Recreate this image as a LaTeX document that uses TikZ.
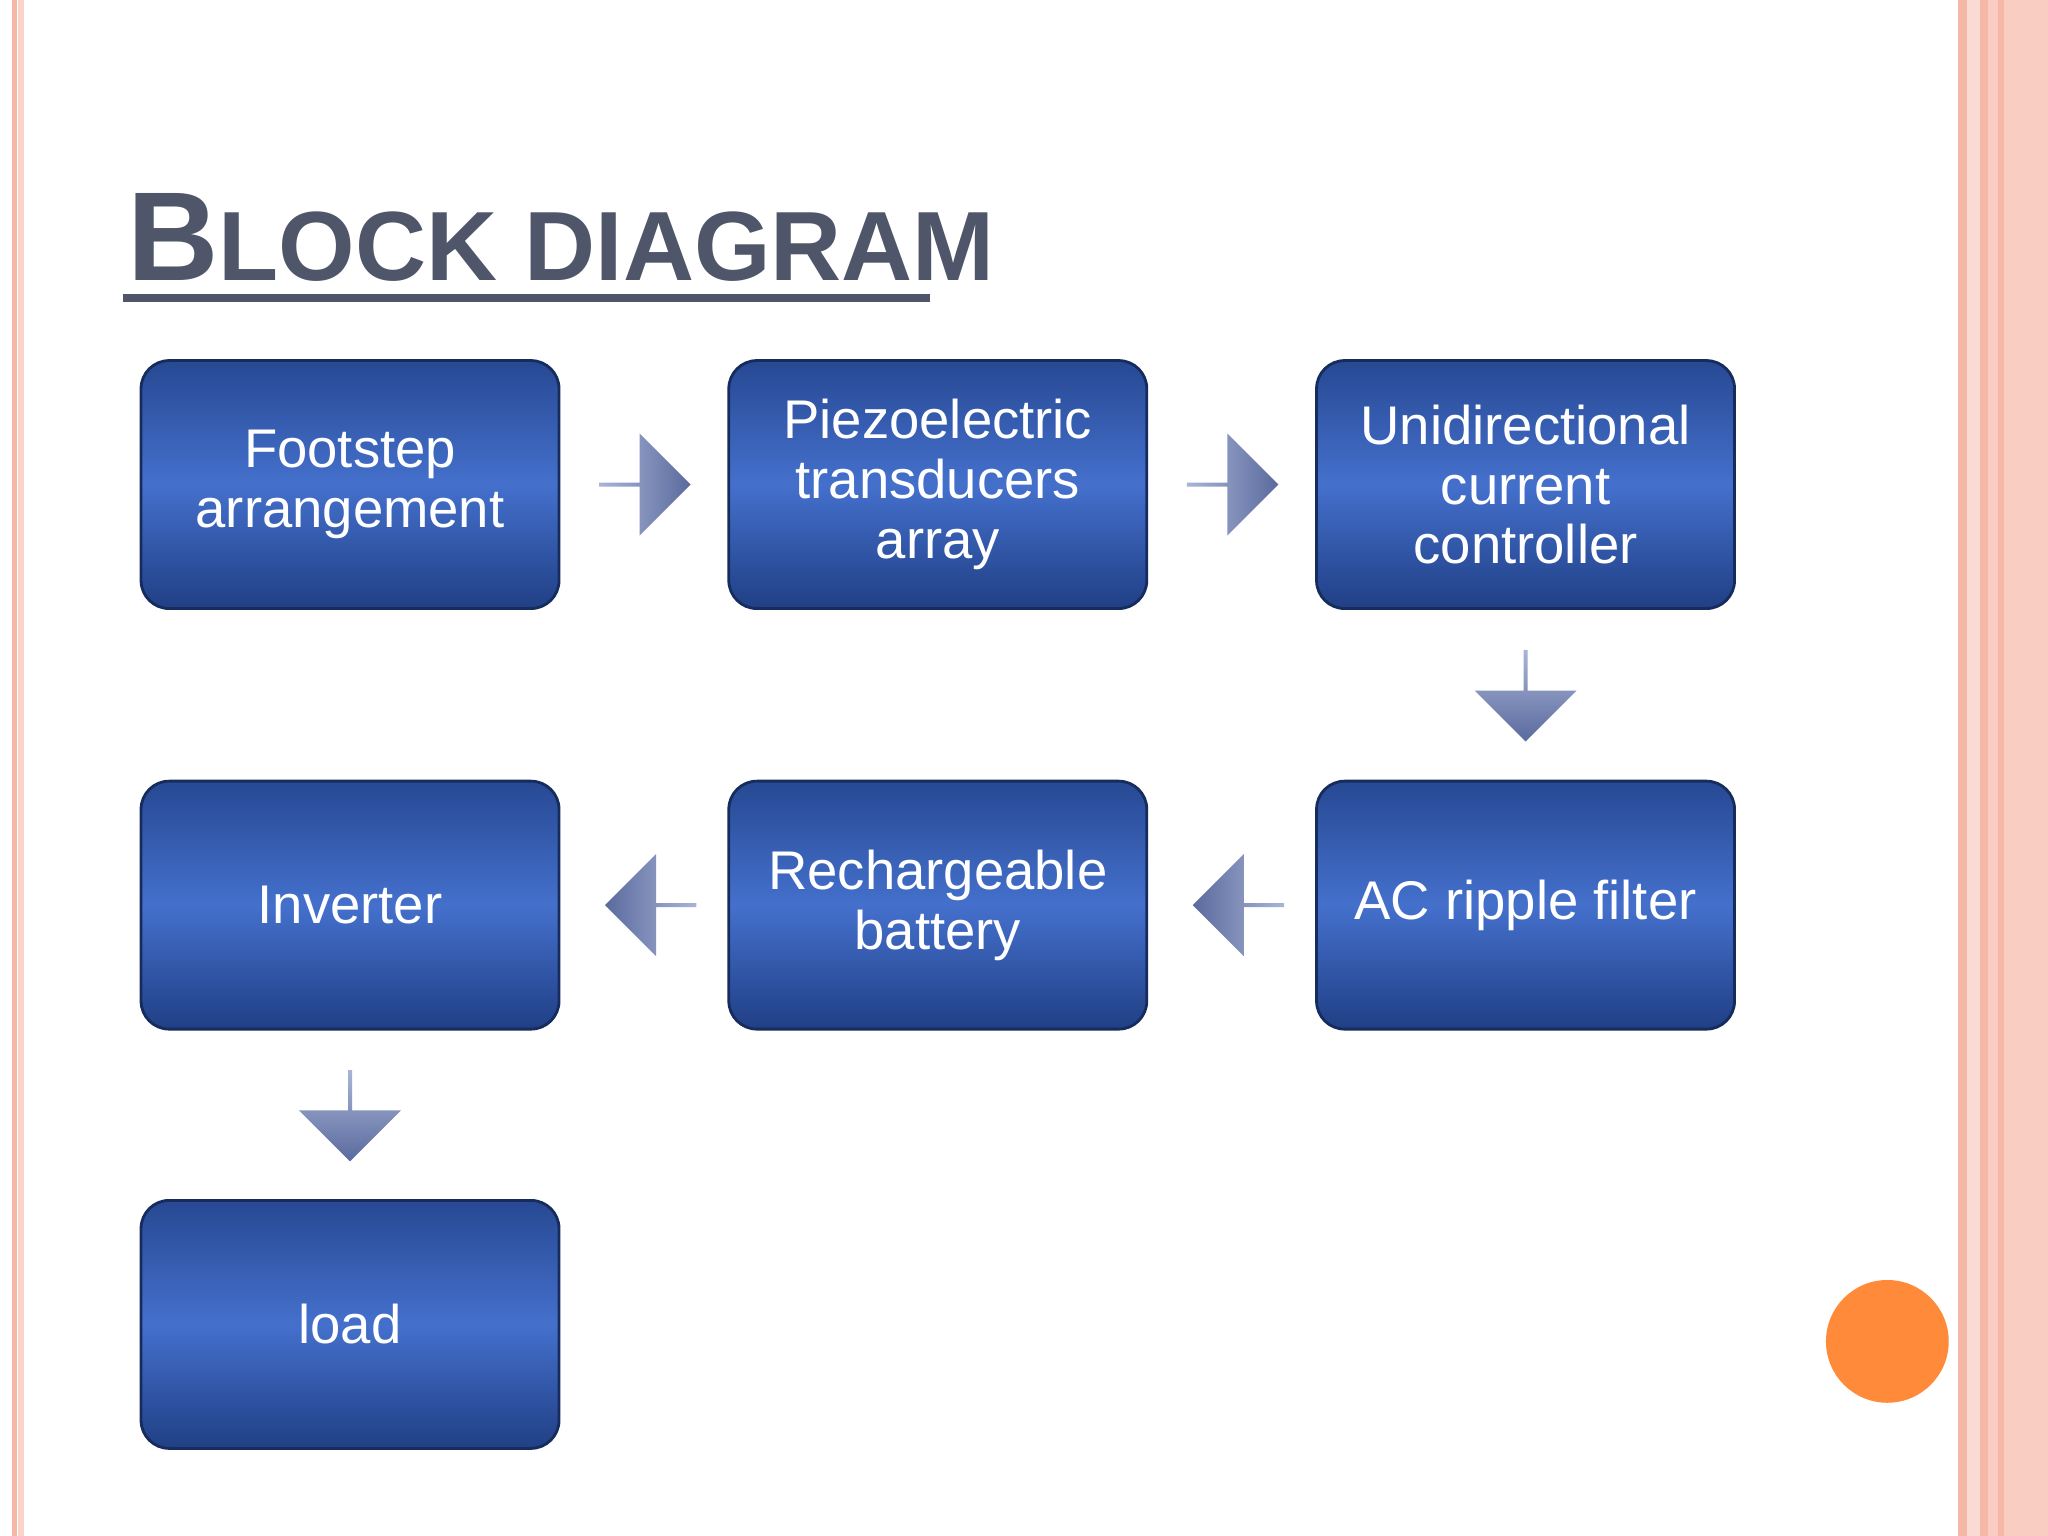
\documentclass[tikz,border=0pt]{standalone}
\usepackage{fontspec}
\setmainfont{Liberation Sans}
\usetikzlibrary{shapes.arrows,calc}
\definecolor{boxL}{HTML}{4470CC}
\definecolor{boxD}{HTML}{203F85}
\definecolor{arrL}{HTML}{A9B5D6}
\definecolor{arrD}{HTML}{5A6A9E}
\definecolor{titlec}{HTML}{4F5669}
\definecolor{pinkline}{HTML}{F6B7A6}
\definecolor{orangec}{HTML}{FF8A3A}
\begin{document}
\begin{tikzpicture}[x=0.013061cm,y=-0.013061cm,
  blk/.style={rounded corners=8pt,minimum width=320\pgflinewidth,inner sep=0pt,
     text=white,font=\fontsize{15.5}{17}\selectfont,align=center,
     top color=boxD!80!boxL,bottom color=boxD,middle color=boxL,
     draw=boxD!70!black,line width=0.8pt},
  arr/.style={single arrow,single arrow head extend=5pt,minimum width=29pt,minimum height=26pt,
     inner sep=0pt,left color=arrL,right color=arrD,draw=none}]
\useasboundingbox (0,0) rectangle (1568,1176);
\fill[white] (0,0) rectangle (1568,1176);
% borders
\fill[pinkline] (9,0) rectangle (13,1176);
\fill[pinkline!60] (14,0) rectangle (18,1176);
\fill[pinkline] (1499,0) rectangle (1506,1176);
\fill[pinkline!50] (1506,0) rectangle (1516,1176);
\fill[pinkline] (1516,0) rectangle (1522,1176);
\fill[pinkline!70] (1522,0) rectangle (1568,1176);
\fill[pinkline] (1530,0) rectangle (1534,1176);
% title
\node[anchor=base west,inner sep=0pt,text=titlec,font=\bfseries] (title) at (97,215)
  {\fontsize{36}{40}\selectfont B\fontsize{28}{32}\selectfont LOCK DIAGRAM};
\fill[titlec] (94,225) rectangle (712,231);
% boxes
\tikzset{bx/.style={blk,minimum width=4.18cm,minimum height=2.48cm}}
\node[bx] (a) at (268,371) {Footstep\\arrangement};
\node[bx] (b) at (718,371) {Piezoelectric\\transducers\\array};
\node[bx] (c) at (1168,371) {Unidirectional\\current\\controller};
\node[bx] (d) at (1168,693) {AC ripple filter};
\node[bx] (e) at (718,693) {Rechargeable\\battery};
\node[bx] (f) at (268,693) {Inverter};
\node[bx] (g) at (268,1014) {load};
% arrows
\node[arr] (ab) at ($(a)!0.5!(b)$) {};
\node[arr] (bc) at ($(b)!0.5!(c)$) {};
\node[arr,shape border rotate=270,top color=arrL,bottom color=arrD] (cd) at ($(c)!0.5!(d)$) {};
\node[arr,shape border rotate=180,left color=arrD,right color=arrL] (de) at ($(d)!0.5!(e)+(6,0)$) {};
\node[arr,shape border rotate=180,left color=arrD,right color=arrL] (ef) at ($(e)!0.5!(f)+(6,0)$) {};
\node[arr,shape border rotate=270,top color=arrL,bottom color=arrD] (fg) at ($(f)!0.5!(g)$) {};
% orange dot
\fill[orangec] (1445,1027) circle (47);
\end{tikzpicture}
\end{document}
